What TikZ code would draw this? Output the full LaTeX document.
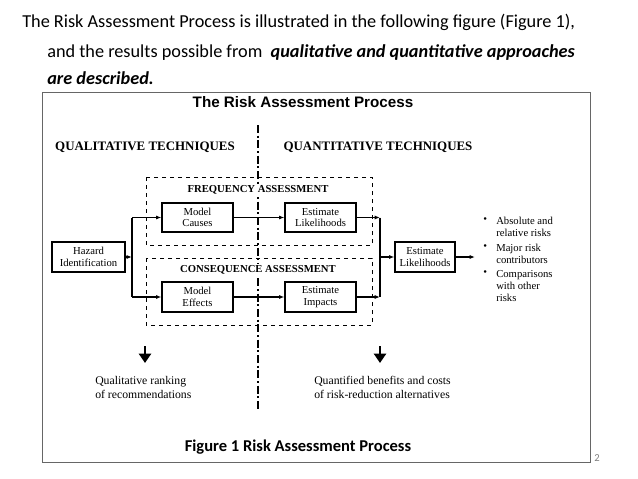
\documentclass[tikz,border=0pt]{standalone}
\usepackage{fontspec}
\setmainfont{Liberation Serif}
\newfontfamily\hdr{Carlito}
\newfontfamily\arl{Liberation Sans}
\usetikzlibrary{arrows.meta}
\begin{document}
\begin{tikzpicture}[x=0.75pt,y=-0.75pt,
  bx/.style={draw,thick,align=center,font=\fontsize{8}{8.6}\selectfont,inner sep=0pt},
  hd/.style={font=\fontsize{8}{9}\selectfont\bfseries,fill=white,inner sep=1pt},
  dbox/.style={draw,dashed,thin},
  ar/.style={-{Latex[length=4pt,width=3pt]},thick},
  ln/.style={thick},
  txt/.style={font=\fontsize{8}{9}\selectfont,align=left,anchor=north west,inner sep=0pt}]
\useasboundingbox (0,0) rectangle (638,478);
% header
\node[anchor=west,inner sep=0pt,font=\hdr\fontsize{13.7}{15}\selectfont] (h1) at (22,22) {The Risk Assessment Process is illustrated in the following figure (Figure 1),};
\node[anchor=west,inner sep=0pt,font=\hdr\fontsize{13.7}{15}\selectfont] (h2) at (47,53) {and the results possible from \ \textbf{\itshape qualitative and quantitative approaches}};
\node[anchor=west,inner sep=0pt,font=\hdr\fontsize{13.7}{15}\selectfont\bfseries\itshape] (h3) at (47,78) {are described.};
% frame
\draw[gray!80!black,thin] (42,92) rectangle (590,462);
\node[font=\arl\bfseries\fontsize{11.4}{13}\selectfont] (title) at (303,102) {The Risk Assessment Process};
\coordinate (vt) at (258,125);
\coordinate (vb) at (258,410);
\draw[line width=1.6pt,dash pattern=on 6pt off 2pt on 1.5pt off 2pt] (vt) -- (vb);
\node[font=\fontsize{9.7}{10}\selectfont\bfseries] (ql) at (145,147) {QUALITATIVE TECHNIQUES};
\node[font=\fontsize{9.7}{10}\selectfont\bfseries] (qn) at (378,147) {QUANTITATIVE TECHNIQUES};
% dashed boxes
\draw[dbox] (146,177) rectangle (372,245);
\draw[dbox] (146,258) rectangle (372,325);
\node[hd] (fa) at (258,190) {FREQUENCY ASSESSMENT};
\node[hd] (ca) at (258,270) {CONSEQUENCE ASSESSMENT};
% boxes
\node[bx,minimum width=53.25pt,minimum height=21.75pt] (mc) at (197.5,217.5) {Model\\Causes};
\node[bx,minimum width=53.25pt,minimum height=21.75pt] (el) at (320.5,217.5) {Estimate\\Likelihoods};
\node[bx,minimum width=53.25pt,minimum height=22.5pt] (me) at (197.5,297) {Model\\Effects};
\node[bx,minimum width=53.25pt,minimum height=22.5pt] (ei) at (320.5,297) {Estimate\\Impacts};
\node[bx,minimum width=54.75pt,minimum height=22.5pt] (hz) at (88.5,257) {Hazard\\Identification};
\node[bx,minimum width=45pt,minimum height=22.5pt] (el2) at (425,257) {Estimate\\Likelihoods};
% connectors
\coordinate (sp) at (132,257);
\coordinate (mg) at (380,257);
\draw[ar] (hz) -- (sp);
\draw[ln] (sp |- mc) -- (sp |- me);
\draw[ar] (sp |- mc) -- (mc);
\draw[ar] (sp |- me) -- (me);
\draw[ar] (mc) -- (el);
\draw[ar] (me) -- (ei);
\draw[ar] (el) -- (mg |- el);
\draw[ar] (ei) -- (mg |- ei);
\draw[ln] (mg |- el) -- (mg |- ei);
\draw[ar] (mg) -- (el2);
\coordinate (be) at (475,257);
\draw[ar] (el2) -- (be);
% bullets
\node[txt] (b1) at (483,217) {•};
\node[txt] (b1t) at (496,217) {Absolute and\\relative risks};
\node[txt] (b2) at (483,244) {•};
\node[txt] (b2t) at (496,244) {Major risk\\contributors};
\node[txt] (b3) at (483,270) {•};
\node[txt] (b3t) at (496,270) {Comparisons\\with other\\risks};
% down arrows
\coordinate (d1a) at (145,346); \coordinate (d1b) at (145,363);
\coordinate (d2a) at (380,346); \coordinate (d2b) at (380,363);
\draw[line width=2pt,-{Triangle[length=7pt,width=9pt]}] (d1a) -- (d1b);
\draw[line width=2pt,-{Triangle[length=7pt,width=9pt]}] (d2a) -- (d2b);
\node[txt,font=\fontsize{8.8}{10.5}\selectfont] (qr) at (95,376) {Qualitative ranking\\of recommendations};
\node[txt,font=\fontsize{8.8}{10.5}\selectfont] (qb) at (314,376) {Quantified benefits and costs\\of risk-reduction alternatives};
\node[font=\hdr\bfseries\fontsize{12.4}{14}\selectfont] (cap) at (298,447) {Figure 1 Risk Assessment Process};
\node[font=\hdr\fontsize{8}{10}\selectfont,text=gray] (pg) at (597,458) {2};
\end{tikzpicture}
\end{document}
